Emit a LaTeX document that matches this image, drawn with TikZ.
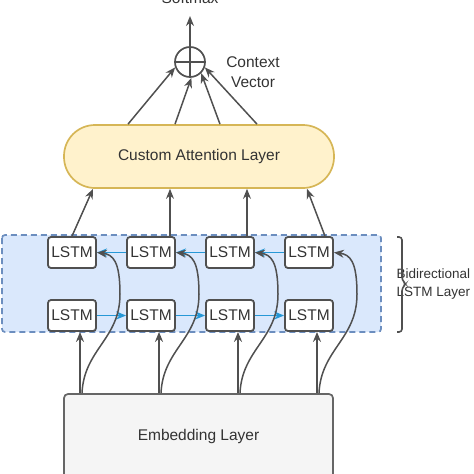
\documentclass[tikz,border=0pt]{standalone}
\usepackage{fontspec}
\setmainfont{Liberation Sans}
\usetikzlibrary{arrows.meta}

\definecolor{linegray}{RGB}{80,80,80}
\definecolor{textgray}{RGB}{51,51,51}
\definecolor{lstmblue}{RGB}{38,152,214}
\definecolor{layerfill}{RGB}{218,232,252}
\definecolor{layerline}{RGB}{108,142,191}
\definecolor{attfill}{RGB}{255,242,204}
\definecolor{attline}{RGB}{214,182,86}
\definecolor{embfill}{RGB}{245,245,245}
\definecolor{embline}{RGB}{102,102,102}

\begin{document}
\begin{tikzpicture}[x=1pt, y=-1pt,
  every node/.style={text=textgray, font=\fontsize{15.5}{20}\selectfont},
  lstmbox/.style={draw=linegray, fill=white, line width=1.8pt, rounded corners=3pt, minimum width=48pt, minimum height=31pt, inner sep=0pt},
  conn/.style={draw=linegray, line width=1.5pt, -{Stealth[length=10pt,width=8pt]}},
  bconn/.style={draw=lstmblue, line width=1.6pt, -{Stealth[length=10pt,width=8pt]}}]

\useasboundingbox (0,0) rectangle (474,474);

\draw[fill=layerfill, draw=layerline, line width=1.7pt, dash pattern=on 6pt off 4pt, rounded corners=3pt] (2,235) rectangle (381,332);

\foreach \i in {1,...,4} {
  \node[lstmbox] (lb\i) at (72+79*\i-79, 252.5) {LSTM};
  \node[lstmbox] (lf\i) at (72+79*\i-79, 315.5) {LSTM};
}

\node[draw=attline, fill=attfill, line width=1.7pt, rounded corners=31pt, minimum width=270pt, minimum height=63pt] (att) at (199,156.5) {Custom Attention Layer};
\node[draw=embline, fill=embfill, line width=1.7pt, rounded corners=4pt, minimum width=269pt, minimum height=84pt] (emb) at (198.5,436) {Embedding Layer};

\node[circle, draw=linegray, line width=1.7pt, minimum size=30pt, inner sep=0pt,
  path picture={\draw[linegray, line width=1.7pt] (path picture bounding box.north) -- (path picture bounding box.south) (path picture bounding box.west) -- (path picture bounding box.east);}] (ctx) at (190,62) {};
\node[anchor=south, inner sep=0pt] (sm) at (190,4) {Softmax};
\node[align=center] (cv) at (253,72) {Context\\Vector};
\node[anchor=west, align=left, font=\fontsize{13.5}{18}\selectfont] (bilabel) at (393,284) {Bidirectional\\LSTM Layer};

\draw[linegray, line width=1.6pt, rounded corners=3pt] (397,237) -- (402,237) -- (402,280) -- (406,284) -- (402,288) -- (402,332) -- (397,332);

\foreach \i/\j in {1/2,2/3,3/4} {
  \draw[bconn] (lb\j.west) -- (lb\i.east);
  \draw[bconn] (lf\i.east) -- (lf\j.west);
}

\foreach \i in {1,...,4} {
  \draw[conn] ([xshift=8pt]lf\i.south |- emb.north) -- ([xshift=8pt]lf\i.south);
  \draw[conn] ([xshift=10pt]lf\i.south |- emb.north) .. controls +(2,-44) and +(0,45) .. ++(38,-99) .. controls +(0,-33) and +(16,2) .. (lb\i.east);
}

\draw[conn] (lb1.north) -- ([xshift=-106pt]att.south);
\draw[conn] ([xshift=19pt]lb2.north) -- ([xshift=19pt]lb2.north |- att.south);
\draw[conn] ([xshift=17pt]lb3.north) -- ([xshift=17pt]lb3.north |- att.south);
\draw[conn] ([xshift=16pt]lb4.north) -- ([xshift=108pt]att.south);

\draw[conn] ([xshift=-71pt]att.north) -- (ctx.200);
\draw[conn] ([xshift=-24pt]att.north) -- (ctx.-85);
\draw[conn] ([xshift=21pt]att.north) -- (ctx.-45);
\draw[conn] ([xshift=58pt]att.north) -- (ctx.-20);
\draw[conn] (ctx.north) -- ([yshift=-12pt]sm.south);

\end{tikzpicture}
\end{document}
